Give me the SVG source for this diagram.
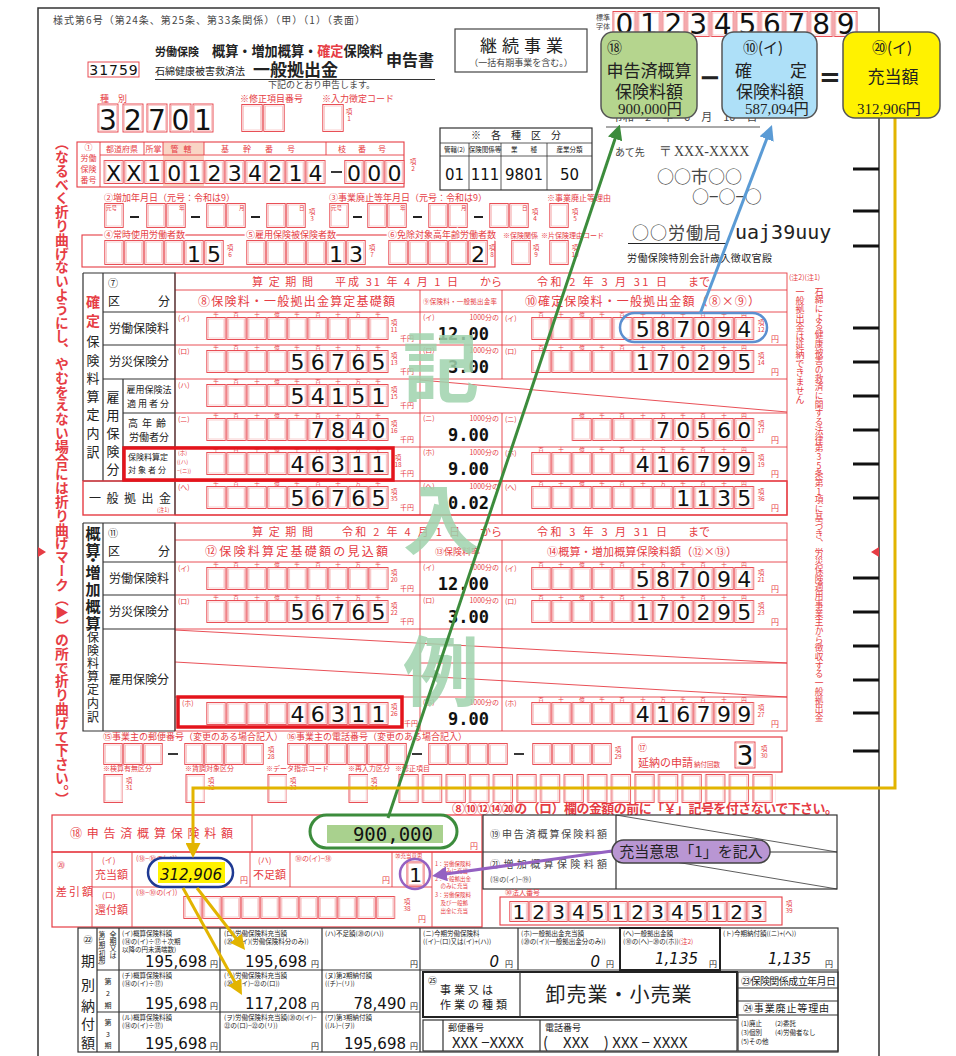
<svg xmlns="http://www.w3.org/2000/svg" width="956" height="1056" viewBox="0 0 956 1056">
<style>
text{font-family:"Noto Sans CJK JP","Noto Sans",sans-serif}
.r{fill:#e63c44}
.k{fill:#222}
.gy{fill:#444}
.m{text-anchor:middle}
.e{text-anchor:end}
.bd{font-weight:bold}
.rl{stroke:#e63c44;stroke-width:0.9;fill:none}
.bl{stroke:#333;stroke-width:1.2;fill:none}
.dg{font-family:"DejaVu Sans",sans-serif;fill:#111;text-anchor:middle}
.hw{font-family:"DejaVu Sans",sans-serif;fill:#111;text-anchor:end}
.rt{font-family:"DejaVu Sans Mono",monospace;font-weight:bold;fill:#111;font-size:17px;text-anchor:end}
.pl{fill:#e63c44;font-size:5.5px;text-anchor:middle}
.kn{fill:#e63c44;font-size:6.5px;text-anchor:middle}
.vt{writing-mode:vertical-rl}
.up{writing-mode:vertical-rl;text-orientation:upright}
.wb{stroke:#fff;stroke-width:3;paint-order:stroke}
.box{fill:#fff;stroke:#e63c44;stroke-width:0.9}
.ib{fill:none;stroke:#f3a0a0;stroke-width:0.5}
.dash{stroke:#222;stroke-width:1.8}
.f5{font-size:5.5px}.f6{font-size:6.5px}.f7{font-size:7px}.f8{font-size:8px}.f9{font-size:9px}.f10{font-size:10px}.f11{font-size:11px}.f12{font-size:12px}.f13{font-size:13px}.f14{font-size:14px}.f15{font-size:15px}.f16{font-size:16px}.f17{font-size:17px}.f18{font-size:18px}.f20{font-size:20px}.f22{font-size:22px}.f26{font-size:26px}.f28{font-size:28px}
.ser{font-family:"Liberation Serif","Noto Sans CJK JP",serif;fill:#222;text-anchor:middle;font-size:15px}
</style>
<defs>
<pattern id="pb" width="20.3" height="23" patternUnits="userSpaceOnUse"><rect x="0.8" y="0.5" width="18.7" height="22" class="box"/><rect x="2.3" y="2" width="15.7" height="19" class="ib"/></pattern>
<pattern id="pc" width="20.2" height="24" patternUnits="userSpaceOnUse"><rect x="0.8" y="0.5" width="18.6" height="23" class="box"/><rect x="2.3" y="2" width="15.6" height="20" class="ib"/></pattern>
<pattern id="pd" width="20" height="25" patternUnits="userSpaceOnUse"><rect x="0.8" y="0.5" width="18.4" height="24" class="box"/><rect x="2.3" y="2" width="15.4" height="21" class="ib"/></pattern>
<pattern id="pe" width="20" height="22" patternUnits="userSpaceOnUse"><rect x="0.8" y="0.5" width="18.4" height="21" class="box"/><rect x="2.3" y="2" width="15.4" height="18" class="ib"/></pattern>
<pattern id="pf" width="23.6" height="29" patternUnits="userSpaceOnUse"><rect x="1" y="0.5" width="19" height="28" class="box"/><rect x="2.5" y="2" width="16" height="25" class="ib"/></pattern>
<pattern id="pg" width="19.3" height="23" patternUnits="userSpaceOnUse"><rect x="0.8" y="0.5" width="17.7" height="22" class="box"/><rect x="2.3" y="2" width="14.7" height="19" class="ib"/></pattern>
<pattern id="ph" width="19.8" height="21" patternUnits="userSpaceOnUse"><rect x="0.8" y="0.5" width="18.2" height="20" class="box"/><rect x="2.3" y="2" width="15.2" height="17" class="ib"/></pattern>
<pattern id="ps" width="24.6" height="26" patternUnits="userSpaceOnUse"><rect x="1" y="0.5" width="22.6" height="25" class="box"/><rect x="2.5" y="2" width="19.6" height="22" class="ib"/></pattern>
<pattern id="pk" width="22" height="28" patternUnits="userSpaceOnUse"><rect x="0.8" y="0.5" width="20.4" height="27" class="box"/><rect x="2.4" y="2" width="17.2" height="24" class="ib"/></pattern>
<marker id="ag" viewBox="0 0 10 10" refX="2" refY="5" markerWidth="5" markerHeight="5" orient="auto"><path d="M0 0L10 5L0 10z" fill="#3c8c3c"/></marker>
<marker id="ab" viewBox="0 0 10 10" refX="2" refY="5" markerWidth="5" markerHeight="5" orient="auto"><path d="M0 0L10 5L0 10z" fill="#5b9bd5"/></marker>
<marker id="ay" viewBox="0 0 10 10" refX="2" refY="5" markerWidth="5" markerHeight="5" orient="auto"><path d="M0 0L10 5L0 10z" fill="#e2b400"/></marker>
<marker id="ap" viewBox="0 0 10 10" refX="2" refY="5" markerWidth="5" markerHeight="5" orient="auto"><path d="M0 0L10 5L0 10z" fill="#9461c2"/></marker>
</defs>
<rect width="956" height="1056" fill="#fff"/>

<g id="frame">
<path d="M38 1056V8H879V1056" fill="none" stroke="#333" stroke-width="1.5"/>
<path stroke="#111" stroke-width="3" d="M853 169H879M853 211H879M853 246H879M853 328H879M853 362H879M853 396H879M853 430H879M853 464H879M853 498H879M853 578H879M853 612H879M853 646H879M853 680H879M853 713H879M853 751H879"/>
<path d="M38 547L46 552L38 557z M879 547L871 552L879 557z" fill="#e63c44"/>
<text class="r bd vt" x="62" y="136" style="font-size:13.8px">（なるべく折り曲げないようにし、やむをえない場合には折り曲げマーク（▶）の所で折り曲げて下さい。）</text>
</g>

<g id="header">
<text class="gy f10" x="53" y="24" textLength="312">様式第6号（第24条、第25条、第33条関係）（甲）（1）（表面）</text>
<rect class="box" x="88" y="62" width="51" height="15"/>
<text class="dg f14" x="114" y="75" letter-spacing="1">31759</text>
<text class="k bd f11" x="155" y="56">労働保険</text>
<text class="k bd f14" x="212" y="56" textLength="171" lengthAdjust="spacingAndGlyphs">概算・増加概算・<tspan class="r">確定</tspan>保険料</text>
<text class="k f10" x="155" y="75">石綿健康被害救済法</text>
<text class="k bd f17" x="253" y="76">一般拠出金</text>
<text class="k bd f16" x="386" y="66">申告書</text>
<line x1="155" y1="79.5" x2="435" y2="79.5" stroke="#333" stroke-width="1"/>
<text class="gy f9" x="268" y="88">下記のとおり申告します。</text>
<text class="r f9" x="100" y="102">種　別</text>
<text class="r f9" x="240" y="102">※修正項目番号</text>
<text class="r f9" x="322" y="102">※入力徴定コード</text>
<rect x="98" y="104" width="20" height="28" class="box"/><rect x="99.5" y="105.5" width="17" height="25" class="ib"/>
<rect x="123" y="104" width="20" height="28" class="box"/><rect x="124.5" y="105.5" width="17" height="25" class="ib"/>
<rect x="147" y="104" width="20" height="28" class="box"/><rect x="148.5" y="105.5" width="17" height="25" class="ib"/>
<rect x="170" y="104" width="21" height="28" class="box"/><rect x="171.5" y="105.5" width="18" height="25" class="ib"/>
<rect x="193" y="104" width="20" height="28" class="box"/><rect x="194.5" y="105.5" width="17" height="25" class="ib"/>
<text class="dg f28" x="108 133 157 180.5 203" y="130">32701</text>
<rect transform="translate(241,104)" width="44" height="28" fill="url(#pk)"/>
<rect transform="translate(322,104)" width="22" height="28" fill="url(#pk)"/>
<text class="kn" x="349" y="114">項<tspan x="349" dy="7">1</tspan></text>
</g>

<g id="keizoku">
<rect x="455" y="29" width="132" height="43" fill="#fff" stroke="#444" stroke-width="1.2"/>
<text class="k f17 m" x="524" y="52" letter-spacing="5">継続事業</text>
<text class="gy f9 m" x="521" y="66">（一括有期事業を含む。）</text>
</g>

<g id="hyojun">
<text class="gy f7" x="596" y="20">標準</text>
<text class="gy f7" x="596" y="29">字体</text>
<rect transform="translate(612,11)" width="246" height="26" fill="url(#ps)"/>
<text class="dg f28" x="624.3 648.9 673.5 698.1 722.7 747.3 771.9 796.5 821.1 845.7" y="34">0123456789</text>
<text class="gy f11" x="612" y="121">令和　2　年　6　月　10　日</text>
<line x1="606" y1="127" x2="760" y2="127" stroke="#555" stroke-width="1"/>
</g>

<g id="kubun">
<rect x="440" y="128" width="152" height="62" fill="#fff" stroke="#333" stroke-width="1.2"/>
<path class="bl" d="M440 143H592M440 156H592M469 143V190M501 143V190M547 143V190" style="stroke-width:0.8"/>
<text class="k f10 m" x="516" y="139">※　各　種　区　分</text>
<text class="k f6 m" x="454.5" y="152">管轄(2)</text>
<text class="k f6 m" x="485" y="152">保険関係等</text>
<text class="k f6 m" x="524" y="152">業　　種</text>
<text class="k f6 m" x="569.5" y="152">産業分類</text>
<text class="dg f15" x="454.5" y="180">01</text>
<text class="dg f15" x="485" y="180">111</text>
<text class="dg f15" x="524" y="180">9801</text>
<text class="dg f15" x="569.5" y="180">50</text>
</g>

<g id="rodo-bango">
<rect x="163" y="143" width="41" height="43" fill="#f9d5c5"/>
<rect x="77" y="142" width="327" height="45" class="rl" style="stroke-width:1.1"/>
<path class="rl" d="M100 142V187M100 155H404M144 142V155M163 142V155M204 142V155M326 142V155"/>
<text class="r f8 m" x="88.5" y="150">①</text>
<text class="r f8 m" x="88.5" y="161">労働</text>
<text class="r f8 m" x="88.5" y="172">保険</text>
<text class="r f8 m" x="88.5" y="183">番号</text>
<text class="r f8 m" x="122" y="152">都道府県</text>
<text class="r f8 m" x="153.5" y="152">所掌</text>
<text class="r f8 m" x="183.5" y="152" letter-spacing="5">管轄</text>
<text class="r f8 m" x="265" y="152" letter-spacing="14">基幹番号</text>
<text class="r f8 m" x="368" y="152" letter-spacing="12">枝番号</text>
<rect transform="translate(103.5,160)" width="222.2" height="24" fill="url(#pc)"/>
<rect transform="translate(344,160)" width="60.6" height="24" fill="url(#pc)"/>
<path class="dash" d="M331 172h11"/>
<text class="dg f22" x="113.6 133.8 154 174.2 194.4 214.6 234.8 255 275.2 295.4 315.6" y="181">XX101234214</text>
<text class="dg f22" x="354.1 374.3 394.5" y="181">000</text>
<text class="kn" x="413" y="164">項<tspan x="413" dy="7">2</tspan></text>
</g>

<g id="dates">
<text class="r f9" x="104" y="201">②増加年月日（元号：令和は9）</text>
<text class="r f9" x="329" y="201">③事業廃止等年月日（元号：令和は9）</text>
<text class="r f8" x="547" y="201">※事業廃止等理由</text>
<rect transform="translate(104,203)" width="20" height="25" fill="url(#pd)"/>
<rect transform="translate(146,203)" width="40" height="25" fill="url(#pd)"/>
<rect transform="translate(206,203)" width="40" height="25" fill="url(#pd)"/>
<rect transform="translate(266,203)" width="40" height="25" fill="url(#pd)"/>
<path class="dash" d="M130 217h9M191 217h9M251 217h9"/>
<text class="r f5" x="106" y="210">元号</text>
<text class="r f5" x="179" y="210">年</text><text class="r f5" x="239" y="210">月</text><text class="r f5" x="299" y="210">日</text>
<text class="kn" x="312" y="214">項<tspan x="312" dy="7">3</tspan></text>
<rect transform="translate(329,203)" width="20" height="25" fill="url(#pd)"/>
<rect transform="translate(367,203)" width="40" height="25" fill="url(#pd)"/>
<rect transform="translate(428,203)" width="40" height="25" fill="url(#pd)"/>
<rect transform="translate(489,203)" width="40" height="25" fill="url(#pd)"/>
<path class="dash" d="M353 217h9M413 217h9M474 217h9"/>
<text class="r f5" x="331" y="210">元号</text>
<text class="r f5" x="400" y="210">年</text><text class="r f5" x="461" y="210">月</text><text class="r f5" x="522" y="210">日</text>
<text class="kn" x="535" y="214">項<tspan x="535" dy="7">4</tspan></text>
<rect transform="translate(549,203)" width="20" height="25" fill="url(#pd)"/>
<text class="kn" x="575" y="214">項<tspan x="575" dy="7">5</tspan></text>
</g>

<g id="counts">
<rect x="82" y="235" width="413" height="32" class="rl" style="stroke-width:1.1"/>
<text class="r f9 wb" x="104" y="238">④常時使用労働者数</text>
<text class="r f9 wb" x="246" y="238">⑤雇用保険被保険者数</text>
<text class="r f9 wb" x="388" y="238">⑥免除対象高年齢労働者数</text>
<rect transform="translate(104,240)" width="120" height="25" fill="url(#pd)"/>
<rect transform="translate(246,240)" width="120" height="25" fill="url(#pd)"/>
<rect transform="translate(388,240)" width="100" height="25" fill="url(#pd)"/>
<text class="dg f22" x="194 214" y="262">15</text>
<text class="dg f22" x="336 356" y="262">13</text>
<text class="dg f22" x="478" y="262">2</text>
<text class="kn" x="230" y="250">項<tspan x="230" dy="7">6</tspan></text>
<text class="kn" x="372" y="250">項<tspan x="372" dy="7">7</tspan></text>
<text class="kn" x="492" y="250">項<tspan x="492" dy="7">8</tspan></text>
<text class="r f7" x="503" y="238">※保険関係</text>
<rect transform="translate(511,240)" width="20" height="25" fill="url(#pd)"/>
<text class="kn" x="536" y="250">項<tspan x="536" dy="7">9</tspan></text>
<text class="r f7" x="541" y="238">※片保険理由コード</text>
<rect transform="translate(549,240)" width="20" height="25" fill="url(#pd)"/>
<text class="kn" x="575" y="250">項<tspan x="575" dy="7">10</tspan></text>
</g>

<g id="atesaki">
<text class="gy f10" x="615" y="156">あて先</text>
<text class="gy" style="font-family:'Liberation Serif',serif;font-size:14px" x="660" y="156">〒XXX-XXXX</text>
<text class="gy f17" x="657" y="183">○○市○○</text>
<text class="gy f17" x="692" y="203">○−○−○</text>
<text class="gy f17" x="632" y="239" letter-spacing="1">○○労働局</text>
<line x1="628" y1="243.5" x2="728" y2="243.5" stroke="#222" stroke-width="1.2"/>
<text x="735" y="239" style="font-family:'DejaVu Sans Mono',monospace;font-size:20px;fill:#222">uaj39uuy</text>
<text class="k f10" x="627" y="262" textLength="145">労働保険特別会計歳入徴収官殿</text>
</g>

<g id="kakutei">
<rect x="175" y="273" width="612" height="242" class="rl"/>
<path class="rl" d="M175 290H787M175 312H787M175 345H787M175 379H787M175 413H787M175 447H787M175 481H787M420 290V515M502 290V379M502 413V515M420 380L787 412"/>
<path class="bl" d="M83 273H175V515M83 273V481M103 273V481M103 312H175M103 345H175M103 379H175M123 379V481M123 413H175M123 447H175M83 481H175"/>
<rect x="83" y="481" width="704" height="34" fill="none" stroke="#e63c44" stroke-width="1.4"/>
<text class="r bd f14 m" x="93" y="307">確</text>
<text class="r bd f14 m" x="93" y="326">定</text>
<text class="k f13 m" x="93" y="346">保</text>
<text class="k f13 m" x="93" y="365">険</text>
<text class="k f13 m" x="93" y="383">料</text>
<text class="k f13 m" x="93" y="401">算</text>
<text class="k f13 m" x="93" y="419">定</text>
<text class="k f13 m" x="93" y="438">内</text>
<text class="k f13 m" x="93" y="457">訳</text>
<text class="k f10" x="108" y="287">⑦</text>
<text class="k f12" x="108" y="306">区</text><text class="k f12" x="158" y="306">分</text>
<text class="k f12 m" x="139" y="333">労働保険料</text>
<text class="k f12 m" x="139" y="366">労災保険分</text>
<text class="k f13 m" x="113" y="402">雇</text>
<text class="k f13 m" x="113" y="420">用</text>
<text class="k f13 m" x="113" y="438">保</text>
<text class="k f13 m" x="113" y="456">険</text>
<text class="k f13 m" x="113" y="474">分</text>
<text class="k f9 m" x="149" y="393">雇用保険法</text>
<text class="k f9 m" x="149" y="407" letter-spacing="2">適用者分</text>
<text class="k f10 m" x="149" y="427" letter-spacing="4">高年齢</text>
<text class="k f10 m" x="149" y="441">労働者分</text>
<text class="k f8" x="128" y="460">保険料算定</text>
<text class="k f8" x="128" y="473" letter-spacing="2">対象者分</text>
<text class="k f12" x="89" y="503" textLength="82">一般拠出金</text>
<text class="r f5" x="157" y="512">(注1)</text>
<text class="r f11" x="252" y="286" textLength="61">算定期間</text>
<text class="r f11" x="335" y="286" textLength="123">平成 31 年 4 月 1 日</text>
<text class="r f11" x="480" y="286">から</text>
<text class="r f11" x="537" y="286" textLength="130">令和 2 年 3 月 31 日</text>
<text class="r f11" x="688" y="286">まで</text>
<text class="r f12" x="198" y="306" textLength="197">⑧保険料・一般拠出金算定基礎額</text>
<text class="r f6" x="423" y="304" textLength="74">⑨保険料・一般拠出金率</text>
<text class="r f12" x="525" y="306" textLength="235">⑩確定保険料・一般拠出金額（⑧×⑨）</text>

<text class="r f7" x="178" y="321">(イ)</text>
<text class="r f7" x="178" y="354">(ロ)</text>
<text class="r f7" x="178" y="388">(ハ)</text>
<text class="r f7" x="178" y="422">(ニ)</text>
<text class="r f5" x="178" y="455">(ホ)</text>
<text class="r f5" x="177" y="464">((ハ)</text>
<text class="r f5" x="177" y="473">−(ニ))</text>
<text class="r f7" x="178" y="490">(ヘ)</text>
<text class="pl" x="216 236 257 277 297 318 338 358 378" y="316.5">千百十億千百十万千</text>
<text class="pl" x="216 236 257 277 297 318 338 358 378" y="349.5">千百十億千百十万千</text>
<text class="pl" x="216 236 257 277 297 318 338 358 378" y="383.5">千百十億千百十万千</text>
<text class="pl" x="216 236 257 277 297 318 338 358 378" y="417.5">千百十億千百十万千</text>
<text class="pl" x="216 236 257 277 297 318 338 358 378" y="451.5">千百十億千百十万千</text>
<text class="pl" x="216 236 257 277 297 318 338 358 378" y="485.5">千百十億千百十万千</text>
<rect transform="translate(206,317)" width="182.7" height="23" fill="url(#pb)"/>
<rect transform="translate(206,350)" width="182.7" height="23" fill="url(#pb)"/>
<rect transform="translate(206,384)" width="182.7" height="23" fill="url(#pb)"/>
<rect transform="translate(206,418)" width="182.7" height="23" fill="url(#pb)"/>
<rect transform="translate(206,452)" width="182.7" height="23" fill="url(#pb)"/>
<rect transform="translate(206,486)" width="182.7" height="23" fill="url(#pb)"/>
<text class="dg f22" x="297.4 317.7 338 358.3 378.6" y="370">56765</text>
<text class="dg f22" x="297.4 317.7 338 358.3 378.6" y="404">54151</text>
<text class="dg f22" x="317.7 338 358.3 378.6" y="438">7840</text>
<text class="dg f22" x="297.4 317.7 338 358.3 378.6" y="472">46311</text>
<text class="dg f22" x="297.4 317.7 338 358.3 378.6" y="506">56765</text>
<text class="kn" x="394" y="325">項<tspan x="394" dy="7">11</tspan></text>
<text class="kn" x="394" y="358">項<tspan x="394" dy="7">13</tspan></text>
<text class="kn" x="394" y="392">項<tspan x="394" dy="7">15</tspan></text>
<text class="kn" x="394" y="426">項<tspan x="394" dy="7">16</tspan></text>
<text class="kn" x="398" y="460">項<tspan x="398" dy="7">18</tspan></text>
<text class="kn" x="394" y="494">項<tspan x="394" dy="7">35</tspan></text>
<text class="r f7" x="400" y="341">千円</text>
<text class="r f7" x="400" y="374">千円</text>
<text class="r f7" x="400" y="408">千円</text>
<text class="r f7" x="400" y="442">千円</text>
<text class="r f7" x="400" y="476">千円</text>
<text class="r f7" x="400" y="510">千円</text>

<text class="r f7" x="423" y="320">(イ)</text><text class="r f7 e" x="499" y="320">1000分の</text><text class="rt" x="489" y="340">12.00</text>
<text class="r f7" x="423" y="353">(ロ)</text><text class="r f7 e" x="499" y="353">1000分の</text><text class="rt" x="489" y="373">3.00</text>
<text class="r f7" x="423" y="421">(ニ)</text><text class="r f7 e" x="499" y="421">1000分の</text><text class="rt" x="489" y="441">9.00</text>
<text class="r f7" x="423" y="455">(ホ)</text><text class="r f7 e" x="499" y="455">1000分の</text><text class="rt" x="489" y="475">9.00</text>
<text class="r f7" x="423" y="489">(ヘ)</text><text class="r f7 e" x="499" y="489">1000分の</text><text class="rt" x="489" y="509">0.02</text>

<text class="r f7" x="505" y="321">(イ)</text>
<text class="r f7" x="505" y="354">(ロ)</text>
<text class="r f7" x="505" y="422">(ニ)</text>
<text class="r f7" x="505" y="456">(ホ)</text>
<text class="r f7" x="505" y="490">(ヘ)</text>
<text class="pl" x="541 561 582 602 622 643 663 683 703 724 744" y="316.5">百十億千百十万千百十円</text>
<text class="pl" x="541 561 582 602 622 643 663 683 703 724 744" y="349.5">百十億千百十万千百十円</text>
<text class="pl" x="582 602 622 643 663 683 703 724 744" y="417.5">億千百十万千百十円</text>
<text class="pl" x="541 561 582 602 622 643 663 683 703 724 744" y="451.5">百十億千百十万千百十円</text>
<text class="pl" x="541 561 582 602 622 643 663 683 703 724 744" y="485.5">百十億千百十万千百十円</text>
<rect transform="translate(531,317)" width="223.3" height="23" fill="url(#pb)"/>
<rect transform="translate(531,350)" width="223.3" height="23" fill="url(#pb)"/>
<rect transform="translate(571.6,418)" width="182.7" height="23" fill="url(#pb)"/>
<rect transform="translate(531,452)" width="223.3" height="23" fill="url(#pb)"/>
<rect transform="translate(531,486)" width="223.3" height="23" fill="url(#pb)"/>
<text class="dg f22" x="642.7 663 683.3 703.6 723.9 744.2" y="337">587094</text>
<text class="dg f22" x="642.7 663 683.3 703.6 723.9 744.2" y="370">170295</text>
<text class="dg f22" x="663 683.3 703.6 723.9 744.2" y="438">70560</text>
<text class="dg f22" x="642.7 663 683.3 703.6 723.9 744.2" y="472">416799</text>
<text class="dg f22" x="683.3 703.6 723.9 744.2" y="506">1135</text>
<text class="kn" x="761" y="325">項<tspan x="761" dy="7">12</tspan></text>
<text class="kn" x="761" y="358">項<tspan x="761" dy="7">14</tspan></text>
<text class="kn" x="761" y="426">項<tspan x="761" dy="7">17</tspan></text>
<text class="kn" x="761" y="460">項<tspan x="761" dy="7">19</tspan></text>
<text class="kn" x="761" y="494">項<tspan x="761" dy="7">36</tspan></text>
<text class="r f8" x="771" y="342">円</text>
<text class="r f8" x="771" y="375">円</text>
<text class="r f8" x="771" y="443">円</text>
<text class="r f8" x="771" y="477">円</text>
<text class="r f8" x="771" y="511">円</text>
<rect x="124" y="448" width="269" height="32" fill="none" stroke="#e4141c" stroke-width="3.5"/>
</g>

<g id="notes-right">
<text class="r f7" x="789" y="280">(注2)(注1)</text>
<text class="r f9 vt" x="800" y="287">一般拠出金は延納できません</text>
<text class="r up" x="819" y="287" style="font-size:8.7px">石綿による健康被害の救済に関する法律第35条第1項に基づき、労災保険適用事業主から徴収する一般拠出金</text>
</g>

<g id="gaisan">
<rect x="175" y="523" width="612" height="208" class="rl"/>
<path class="rl" d="M175 540H787M175 562H787M175 595H787M175 629H787M420 663H787M175 697H787M420 540V731M502 540V731M175 630L787 663M175 662L787 697"/>
<path class="bl" d="M83 523H175V731M83 523V731H175M103 523V731M103 562H175M103 595H175M103 629H175"/>
<text class="k bd f15 m" x="93" y="539">概</text>
<text class="k bd f15 m" x="93" y="556">算</text>
<text class="k bd f15 m" x="93" y="566">・</text>
<text class="k bd f15 m" x="93" y="578">増</text>
<text class="k bd f15 m" x="93" y="595">加</text>
<text class="k bd f15 m" x="93" y="612">概</text>
<text class="k bd f15 m" x="93" y="629">算</text>
<text class="k f12 m" x="93" y="642">保</text>
<text class="k f12 m" x="93" y="655">険</text>
<text class="k f12 m" x="93" y="668">料</text>
<text class="k f12 m" x="93" y="681">算</text>
<text class="k f12 m" x="93" y="694">定</text>
<text class="k f12 m" x="93" y="708">内</text>
<text class="k f12 m" x="93" y="722">訳</text>
<text class="k f10" x="108" y="537">⑪</text>
<text class="k f12" x="108" y="556">区</text><text class="k f12" x="158" y="556">分</text>
<text class="k f12 m" x="139" y="583">労働保険料</text>
<text class="k f12 m" x="139" y="616">労災保険分</text>
<text class="k f12 m" x="139" y="684">雇用保険分</text>
<text class="r f11" x="252" y="536" textLength="61">算定期間</text>
<text class="r f11" x="342" y="536" textLength="118">令和 2 年 4 月 1 日</text>
<text class="r f11" x="480" y="536">から</text>
<text class="r f11" x="537" y="536" textLength="130">令和 3 年 3 月 31 日</text>
<text class="r f11" x="688" y="536">まで</text>
<text class="r f12" x="205" y="556" textLength="183">⑫保険料算定基礎額の見込額</text>
<text class="r f9" x="435" y="555">⑬保険料率</text>
<text class="r f11" x="547" y="556" textLength="190">⑭概算・増加概算保険料額（⑫×⑬）</text>

<text class="r f7" x="178" y="571">(イ)</text>
<text class="r f7" x="178" y="604">(ロ)</text>
<text class="r f7" x="182" y="706">(ホ)</text>
<text class="pl" x="216 236 257 277 297 318 338 358 378" y="566.5">千百十億千百十万千</text>
<text class="pl" x="216 236 257 277 297 318 338 358 378" y="599.5">千百十億千百十万千</text>
<rect transform="translate(206,567)" width="182.7" height="23" fill="url(#pb)"/>
<rect transform="translate(206,600)" width="182.7" height="23" fill="url(#pb)"/>
<rect transform="translate(206,702)" width="182.7" height="23" fill="url(#pb)"/>
<text class="dg f22" x="297.4 317.7 338 358.3 378.6" y="620">56765</text>
<text class="dg f22" x="297.4 317.7 338 358.3 378.6" y="722">46311</text>
<text class="kn" x="394" y="575">項<tspan x="394" dy="7">20</tspan></text>
<text class="kn" x="394" y="608">項<tspan x="394" dy="7">22</tspan></text>
<text class="kn" x="394" y="709">項<tspan x="394" dy="7">26</tspan></text>
<text class="r f7" x="400" y="591">千円</text>
<text class="r f7" x="400" y="624">千円</text>
<text class="r f7" x="404" y="726">千円</text>

<text class="r f7" x="423" y="570">(イ)</text><text class="r f7 e" x="499" y="570">1000分の</text><text class="rt" x="489" y="590">12.00</text>
<text class="r f7" x="423" y="603">(ロ)</text><text class="r f7 e" x="499" y="603">1000分の</text><text class="rt" x="489" y="623">3.00</text>
<text class="r f7" x="423" y="705">(ホ)</text><text class="r f7 e" x="499" y="705">1000分の</text><text class="rt" x="489" y="725">9.00</text>

<text class="r f7" x="505" y="571">(イ)</text>
<text class="r f7" x="505" y="604">(ロ)</text>
<text class="r f7" x="505" y="706">(ホ)</text>
<text class="pl" x="541 561 582 602 622 643 663 683 703 724 744" y="566.5">百十億千百十万千百十円</text>
<text class="pl" x="541 561 582 602 622 643 663 683 703 724 744" y="599.5">百十億千百十万千百十円</text>
<text class="pl" x="541 561 582 602 622 643 663 683 703 724 744" y="701.5">百十億千百十万千百十円</text>
<rect transform="translate(531,567)" width="223.3" height="23" fill="url(#pb)"/>
<rect transform="translate(531,600)" width="223.3" height="23" fill="url(#pb)"/>
<rect transform="translate(531,702)" width="223.3" height="23" fill="url(#pb)"/>
<text class="dg f22" x="642.7 663 683.3 703.6 723.9 744.2" y="587">587094</text>
<text class="dg f22" x="642.7 663 683.3 703.6 723.9 744.2" y="620">170295</text>
<text class="dg f22" x="642.7 663 683.3 703.6 723.9 744.2" y="722">416799</text>
<text class="kn" x="761" y="575">項<tspan x="761" dy="7">21</tspan></text>
<text class="kn" x="761" y="608">項<tspan x="761" dy="7">23</tspan></text>
<text class="kn" x="761" y="710">項<tspan x="761" dy="7">27</tspan></text>
<text class="r f8" x="771" y="592">円</text>
<text class="r f8" x="771" y="625">円</text>
<text class="r f8" x="771" y="727">円</text>
<rect x="178" y="697" width="224" height="30" fill="none" stroke="#e4141c" stroke-width="3.5"/>
</g>

<g id="jigyonushi">
<text class="r f9" x="103" y="740">⑮事業主の郵便番号（変更のある場合記入）</text>
<text class="r f9" x="287" y="740">⑯事業主の電話番号（変更のある場合記入）</text>
<rect transform="translate(103,743)" width="60" height="22" fill="url(#pe)"/>
<path class="dash" d="M168 754h10"/>
<rect transform="translate(184,743)" width="80" height="22" fill="url(#pe)"/>
<text class="kn" x="271" y="752">項<tspan x="271" dy="7">28</tspan></text>
<rect transform="translate(287,743)" width="120" height="22" fill="url(#pe)"/>
<path class="dash" d="M412 754h10"/>
<rect transform="translate(428,743)" width="80" height="22" fill="url(#pe)"/>
<path class="dash" d="M514 754h10"/>
<rect transform="translate(532,743)" width="80" height="22" fill="url(#pe)"/>
<text class="kn" x="618" y="752">項<tspan x="618" dy="7">29</tspan></text>
<rect x="632" y="737" width="150" height="35" class="rl" style="stroke-width:1.2"/>
<text class="r f9" x="638" y="751">⑰</text>
<text class="r f11" x="638" y="767">延納の申請</text>
<text class="r f6" x="694" y="767">納付回数</text>
<rect x="735" y="742" width="20" height="26" class="box"/><rect x="736.5" y="743.5" width="17" height="23" class="ib"/>
<text class="dg f26" x="745" y="765">3</text>
<text class="kn" x="764" y="751">項<tspan x="764" dy="7">30</tspan></text>
<text class="r f7" x="103" y="771">※検算有無区分</text>
<text class="r f7" x="185" y="771">※賃調対象区分</text>
<text class="r f7" x="266" y="771">※データ指示コード</text>
<text class="r f7" x="348" y="771">※再入力区分</text>
<text class="r f7" x="395" y="771">※修正項目</text>
<rect transform="translate(103,774)" width="20" height="29" fill="url(#pf)"/>
<text class="kn" x="129" y="783">項<tspan x="129" dy="7">31</tspan></text>
<rect transform="translate(185,774)" width="20" height="29" fill="url(#pf)"/>
<text class="kn" x="211" y="783">項<tspan x="211" dy="7">32</tspan></text>
<rect transform="translate(267,774)" width="20" height="29" fill="url(#pf)"/>
<text class="kn" x="293" y="783">項<tspan x="293" dy="7">33</tspan></text>
<rect transform="translate(348,774)" width="20" height="29" fill="url(#pf)"/>
<text class="kn" x="374" y="783">項<tspan x="374" dy="7">34</tspan></text>
<rect transform="translate(398,774)" width="377.6" height="29" fill="url(#pf)"/>
<text class="r bd f13" x="452" y="813" textLength="386">⑧⑩⑫⑭⑳の（ロ）欄の金額の前に「￥」記号を付さないで下さい。</text>
</g>

<g id="sec18">
<rect x="52" y="815" width="430" height="37" class="rl" style="stroke-width:1.2"/>
<path class="rl" d="M252 815V852"/>
<text class="r f12" x="70" y="838" textLength="163">⑱申告済概算保険料額</text>
<text class="r f8" x="470" y="849">円</text>
</g>

<g id="sec20">
<rect x="52" y="852" width="430" height="75" class="rl" style="stroke-width:1.2"/>
<path class="rl" d="M92 852V927M132 852V927M92 887H432M250 852V887M290 852V887M392 852V887M432 852V927"/>
<text class="r f8" x="57" y="868">⑳</text>
<text class="r f11" x="56" y="896" letter-spacing="2">差引額</text>
<text class="r f8" x="102" y="863">(イ)</text>
<text class="r f11" x="95" y="879">充当額</text>
<text class="r f8" x="102" y="898">(ロ)</text>
<text class="r f11" x="95" y="914">還付額</text>
<text class="r f7" x="136" y="861">(⑱−⑩の(イ))</text>
<text class="r f8" x="240" y="883">円</text>
<text class="r f8" x="258" y="863">(ハ)</text>
<text class="r f11" x="253" y="879">不足額</text>
<text class="r f7" x="295" y="861">⑩の(イ)−⑱</text>
<text class="r f8" x="382" y="883">円</text>
<text class="r f5" x="395" y="858">⑳充当意思</text>
<rect x="407" y="862" width="17" height="24" class="box"/><rect x="408.5" y="863.5" width="14" height="21" class="ib"/>
<text class="dg f20" x="415.5" y="882">1</text>
<text class="r f5" x="435" y="866">1：労働保険料</text>
<text class="r f5" x="435" y="873">　のみに充当</text>
<text class="r f5" x="435" y="881">2：一般拠出金</text>
<text class="r f5" x="435" y="888">　のみに充当</text>
<text class="r f5" x="435" y="897">3：労働保険料</text>
<text class="r f5" x="435" y="905">　及び一般拠</text>
<text class="r f5" x="435" y="913">　出金に充当</text>
<text class="r f7" x="136" y="895">(⑱−⑩の(イ))</text>
<rect transform="translate(183,896)" width="212.3" height="23" fill="url(#pg)"/>
<text class="kn" x="407" y="904">項<tspan x="407" dy="7">38</tspan></text>
<text class="r f8" x="418" y="922">円</text>
</g>

<g id="oval-312906">
<rect x="148" y="858" width="85" height="29" rx="14.5" fill="#fff" stroke="#1f3a93" stroke-width="2.5"/>
<rect x="158" y="862" width="67" height="21" fill="#fff200"/>
<text class="hw f15" x="222" y="880" font-style="italic">312,906</text>
</g>

<g id="oval-900000">
<rect x="310" y="815" width="147" height="33" rx="16.5" fill="#fff" stroke="#3c8c3c" stroke-width="3"/>
<rect x="327" y="825" width="116" height="18" fill="#a9d18e"/>
<text x="433" y="841" style="font-family:'DejaVu Sans Mono',monospace;font-size:19px;fill:#111;text-anchor:end">900,000</text>
</g>

<g id="oval-587094">
<rect x="620" y="313" width="147" height="29" rx="14.5" fill="none" stroke="#5b8fd0" stroke-width="2.5"/>
</g>

<g id="circle-1">
<circle cx="415" cy="874" r="15" fill="none" stroke="#9461c2" stroke-width="2.5"/>
</g>

<g id="sec19">
<rect x="483" y="815" width="354" height="74" class="bl"/>
<path class="bl" d="M483 852H837M616 815V889"/>
<path stroke="#333" stroke-width="0.8" d="M616 815L837 852M616 852L837 889"/>
<text class="gy f10" x="490" y="838" textLength="117">⑲申告済概算保険料額</text>
<text class="gy f10" x="490" y="868" textLength="117">㉑増加概算保険料額</text>
<text class="gy f7" x="490" y="882">(⑭の(イ)−⑲)</text>
</g>

<g id="hojin">
<text class="r f7" x="505" y="895">㉚法人番号</text>
<rect x="500" y="897" width="282" height="28" class="rl" style="stroke-width:1.1"/>
<rect transform="translate(509,901)" width="257.4" height="21" fill="url(#ph)"/>
<text class="dg f20" x="518.9 538.7 558.5 578.3 598.1 617.9 637.7 657.5 677.3 697.1 716.9 736.7 756.5" y="919">1234512345123</text>
<text class="kn" x="789" y="906">項<tspan x="789" dy="7">39</tspan></text>
</g>

<g id="kibetsu">
<rect x="78" y="928" width="760" height="124" class="bl"/>
<path class="bl" d="M97 928V1052M119 928V1052M220 928V1052M322 928V1052M420 928V1052M518 928V970M620 928V970M720 928V970M97 970H420M97 1012H420M420 970H838"/>
<rect x="620" y="928" width="100" height="42" fill="none" stroke="#222" stroke-width="2"/>
<text class="k f9 m" x="88" y="943">㉒</text>
<text class="k f14 m" x="88" y="966">期</text>
<text class="k f14 m" x="88" y="990">別</text>
<text class="k f14 m" x="88" y="1011">納</text>
<text class="k f14 m" x="88" y="1029">付</text>
<text class="k f14 m" x="88" y="1048">額</text>
<text class="k f6 vt" x="102" y="931">第1期(初期)</text>
<text class="k f7 vt" x="113" y="931">全期又は</text>
<text class="k f7 m" x="108" y="984">第</text><text class="k f7 m" x="108" y="996">2</text><text class="k f7 m" x="108" y="1008">期</text>
<text class="k f7 m" x="108" y="1025">第</text><text class="k f7 m" x="108" y="1037">3</text><text class="k f7 m" x="108" y="1048">期</text>

<text class="k f6" x="122" y="936">(イ)概算保険料額</text>
<text class="k f6" x="122" y="944">(⑭の(イ)÷⑰＋次期</text>
<text class="k f6" x="122" y="952">以降の円未満端数)</text>
<text class="hw f15" x="207" y="967">195,698</text><text class="k f8" x="210" y="967">円</text>
<text class="k f6" x="224" y="936">(ロ)労働保険料充当額</text>
<text class="k f6" x="224" y="944">(⑳の(イ)(労働保険料分のみ))</text>
<text class="hw f15" x="307" y="967">195,698</text><text class="k f8" x="311" y="967">円</text>
<text class="k f6" x="325" y="936">(ハ)不足額(⑳の(ハ))</text>
<text class="k f8" x="410" y="967">円</text>
<text class="k f6" x="423" y="936">(ニ)今期労働保険料</text>
<text class="k f6" x="423" y="944">((イ)−(ロ)又は(イ)+(ハ))</text>
<text class="hw f15" x="499" y="967" font-style="italic">0</text><text class="k f8" x="505" y="967">円</text>
<text class="k f6" x="521" y="936">(ホ)一般拠出金充当額</text>
<text class="k f6" x="521" y="944">(⑳の(イ)(一般拠出金分のみ))</text>
<text class="hw f15" x="600" y="967" font-style="italic">0</text><text class="k f8" x="606" y="967">円</text>
<text class="k f6" x="623" y="936">(ヘ)一般拠出金額</text>
<text class="k f6" x="623" y="944">(⑩の(ヘ)−⑳の(ホ))<tspan class="r">(注2)</tspan></text>
<text class="hw f15" x="698" y="964" font-style="italic">1,135</text><text class="k f8" x="709" y="967">円</text>
<text class="k f6" x="723" y="936">(ト)今期納付額((ニ)+(ヘ))</text>
<text class="hw f15" x="811" y="964" font-style="italic">1,135</text><text class="k f8" x="825" y="967">円</text>

<text class="k f6" x="122" y="978">(チ)概算保険料額</text>
<text class="k f6" x="122" y="986">(⑭の(イ)÷⑰)</text>
<text class="hw f15" x="207" y="1009">195,698</text><text class="k f8" x="210" y="1009">円</text>
<text class="k f6" x="224" y="978">(リ)労働保険料充当額</text>
<text class="k f6" x="224" y="986">(⑳の(イ)−㉒の(ロ))</text>
<text class="hw f15" x="307" y="1009">117,208</text><text class="k f8" x="311" y="1009">円</text>
<text class="k f6" x="325" y="978">(ヌ)第2期納付額</text>
<text class="k f6" x="325" y="986">((チ)−(リ))</text>
<text class="hw f15" x="406" y="1009">78,490</text><text class="k f8" x="410" y="1009">円</text>

<text class="k f6" x="122" y="1020">(ル)概算保険料額</text>
<text class="k f6" x="122" y="1028">(⑭の(イ)÷⑰)</text>
<text class="hw f15" x="207" y="1049">195,698</text><text class="k f8" x="210" y="1049">円</text>
<text class="k f6" x="224" y="1020">(ヲ)労働保険料充当額(⑳の(イ)−</text>
<text class="k f6" x="224" y="1028">㉒の(ロ)−㉒の(リ))</text>
<text class="k f8" x="311" y="1049">円</text>
<text class="k f6" x="325" y="1020">(ワ)第3期納付額</text>
<text class="k f6" x="325" y="1028">((ル)−(ヲ))</text>
<text class="hw f15" x="406" y="1049">195,698</text><text class="k f8" x="410" y="1049">円</text>
</g>

<g id="jigyo-shurui">
<rect x="423" y="972" width="314" height="45" fill="none" stroke="#222" stroke-width="2"/>
<path class="bl" d="M520 972V1017"/>
<text class="k f9" x="428" y="984">㉕</text>
<text class="k f11" x="440" y="994" letter-spacing="3">事業又は</text>
<text class="k f11" x="440" y="1009" letter-spacing="3">作業の種類</text>
<text class="k f20 m" x="619" y="1002" letter-spacing="1">卸売業・小売業</text>
<rect x="423" y="1020" width="314" height="31" class="bl"/>
<path class="bl" d="M443 1020V1051M540 1020V1051"/>
<text class="k f9" x="448" y="1031">郵便番号</text>
<text class="k f15" x="452" y="1048">XXX −XXXX</text>
<text class="k f9" x="545" y="1031">電話番号</text>
<text class="k f15" x="543" y="1048">(　XXX　) XXX − XXXX</text>
<rect x="738" y="972" width="100" height="79" class="bl"/>
<path class="bl" d="M738 988H838M738 1001H838M738 1015H838"/>
<text class="k f10" x="741" y="985" textLength="95">㉓保険関係成立年月日</text>
<text class="k f10" x="743" y="1012" textLength="86">㉔事業廃止等理由</text>
<text class="k f6" x="741" y="1026">(1)廃止　　(2)委託</text>
<text class="k f6" x="741" y="1035">(3)個別　　(4)労働者なし</text>
<text class="k f6" x="741" y="1044">(5)その他</text>
</g>

<g id="watermark" fill="#9fd3ad" font-weight="bold" text-anchor="middle" opacity="0.85">
<text x="441" y="396" style="font-size:76px">記</text>
<text x="441" y="548" style="font-size:76px">入</text>
<text x="441" y="700" style="font-size:76px">例</text>
</g>

<g id="connectors" fill="none" stroke-linecap="butt">
<path d="M388 818L616 136" stroke="#3c8c3c" stroke-width="3" marker-end="url(#ag)"/>
<path d="M700 314L767.7 136.2" stroke="#5b9bd5" stroke-width="3" marker-end="url(#ab)"/>
<path d="M895 118V788H193V846" stroke="#e2b400" stroke-width="3" marker-end="url(#ay)"/>
<path d="M197 888L237.7 940.5" stroke="#e2b400" stroke-width="3" marker-end="url(#ay)"/>
<path d="M183 888L236.2 984.5" stroke="#e2b400" stroke-width="3" marker-end="url(#ay)"/>
<path d="M612 851L443.9 874.3" stroke="#9461c2" stroke-width="3" marker-end="url(#ap)"/>
</g>

<g id="callout-18">
<rect x="601" y="32" width="96" height="86" rx="12" fill="#b5d58e" stroke="#555" stroke-width="1.5"/>
<text class="k f15" x="607" y="53">⑱</text>
<text class="k f17 m" x="649" y="77">申告済概算</text>
<text class="k f17 m" x="649" y="98">保険料額</text>
<text class="ser" x="650" y="114">900,000円</text>
</g>
<text class="k bd m" x="710" y="86" style="font-family:'DejaVu Sans',sans-serif;font-size:26px">−</text>
<g id="callout-10i">
<rect x="722" y="32" width="95" height="86" rx="12" fill="#aee0f8" stroke="#555" stroke-width="1.5"/>
<text class="k f15 m" x="763" y="53">⑩(イ)</text>
<text class="k f17" x="735" y="77">確</text>
<text class="k f17" x="790" y="77">定</text>
<text class="k f17 m" x="770" y="98">保険料額</text>
<text class="ser" x="777" y="114">587,094円</text>
</g>
<text class="k bd m" x="830" y="86" style="font-family:'DejaVu Sans',sans-serif;font-size:26px">=</text>
<g id="callout-20i">
<rect x="843" y="32" width="97" height="86" rx="12" fill="#fff200" stroke="#555" stroke-width="1.5"/>
<text class="k f15 m" x="892" y="53">⑳(イ)</text>
<text class="k f17 m" x="893" y="83">充当額</text>
<text class="ser" x="889" y="114">312,906円</text>
</g>
<g id="callout-juto">
<rect x="612" y="840" width="158" height="23" rx="11.5" fill="#b996d3" stroke="#444" stroke-width="1.5"/>
<text class="k f15 m" x="691" y="857">充当意思「1」を記入</text>
</g>
</svg>
